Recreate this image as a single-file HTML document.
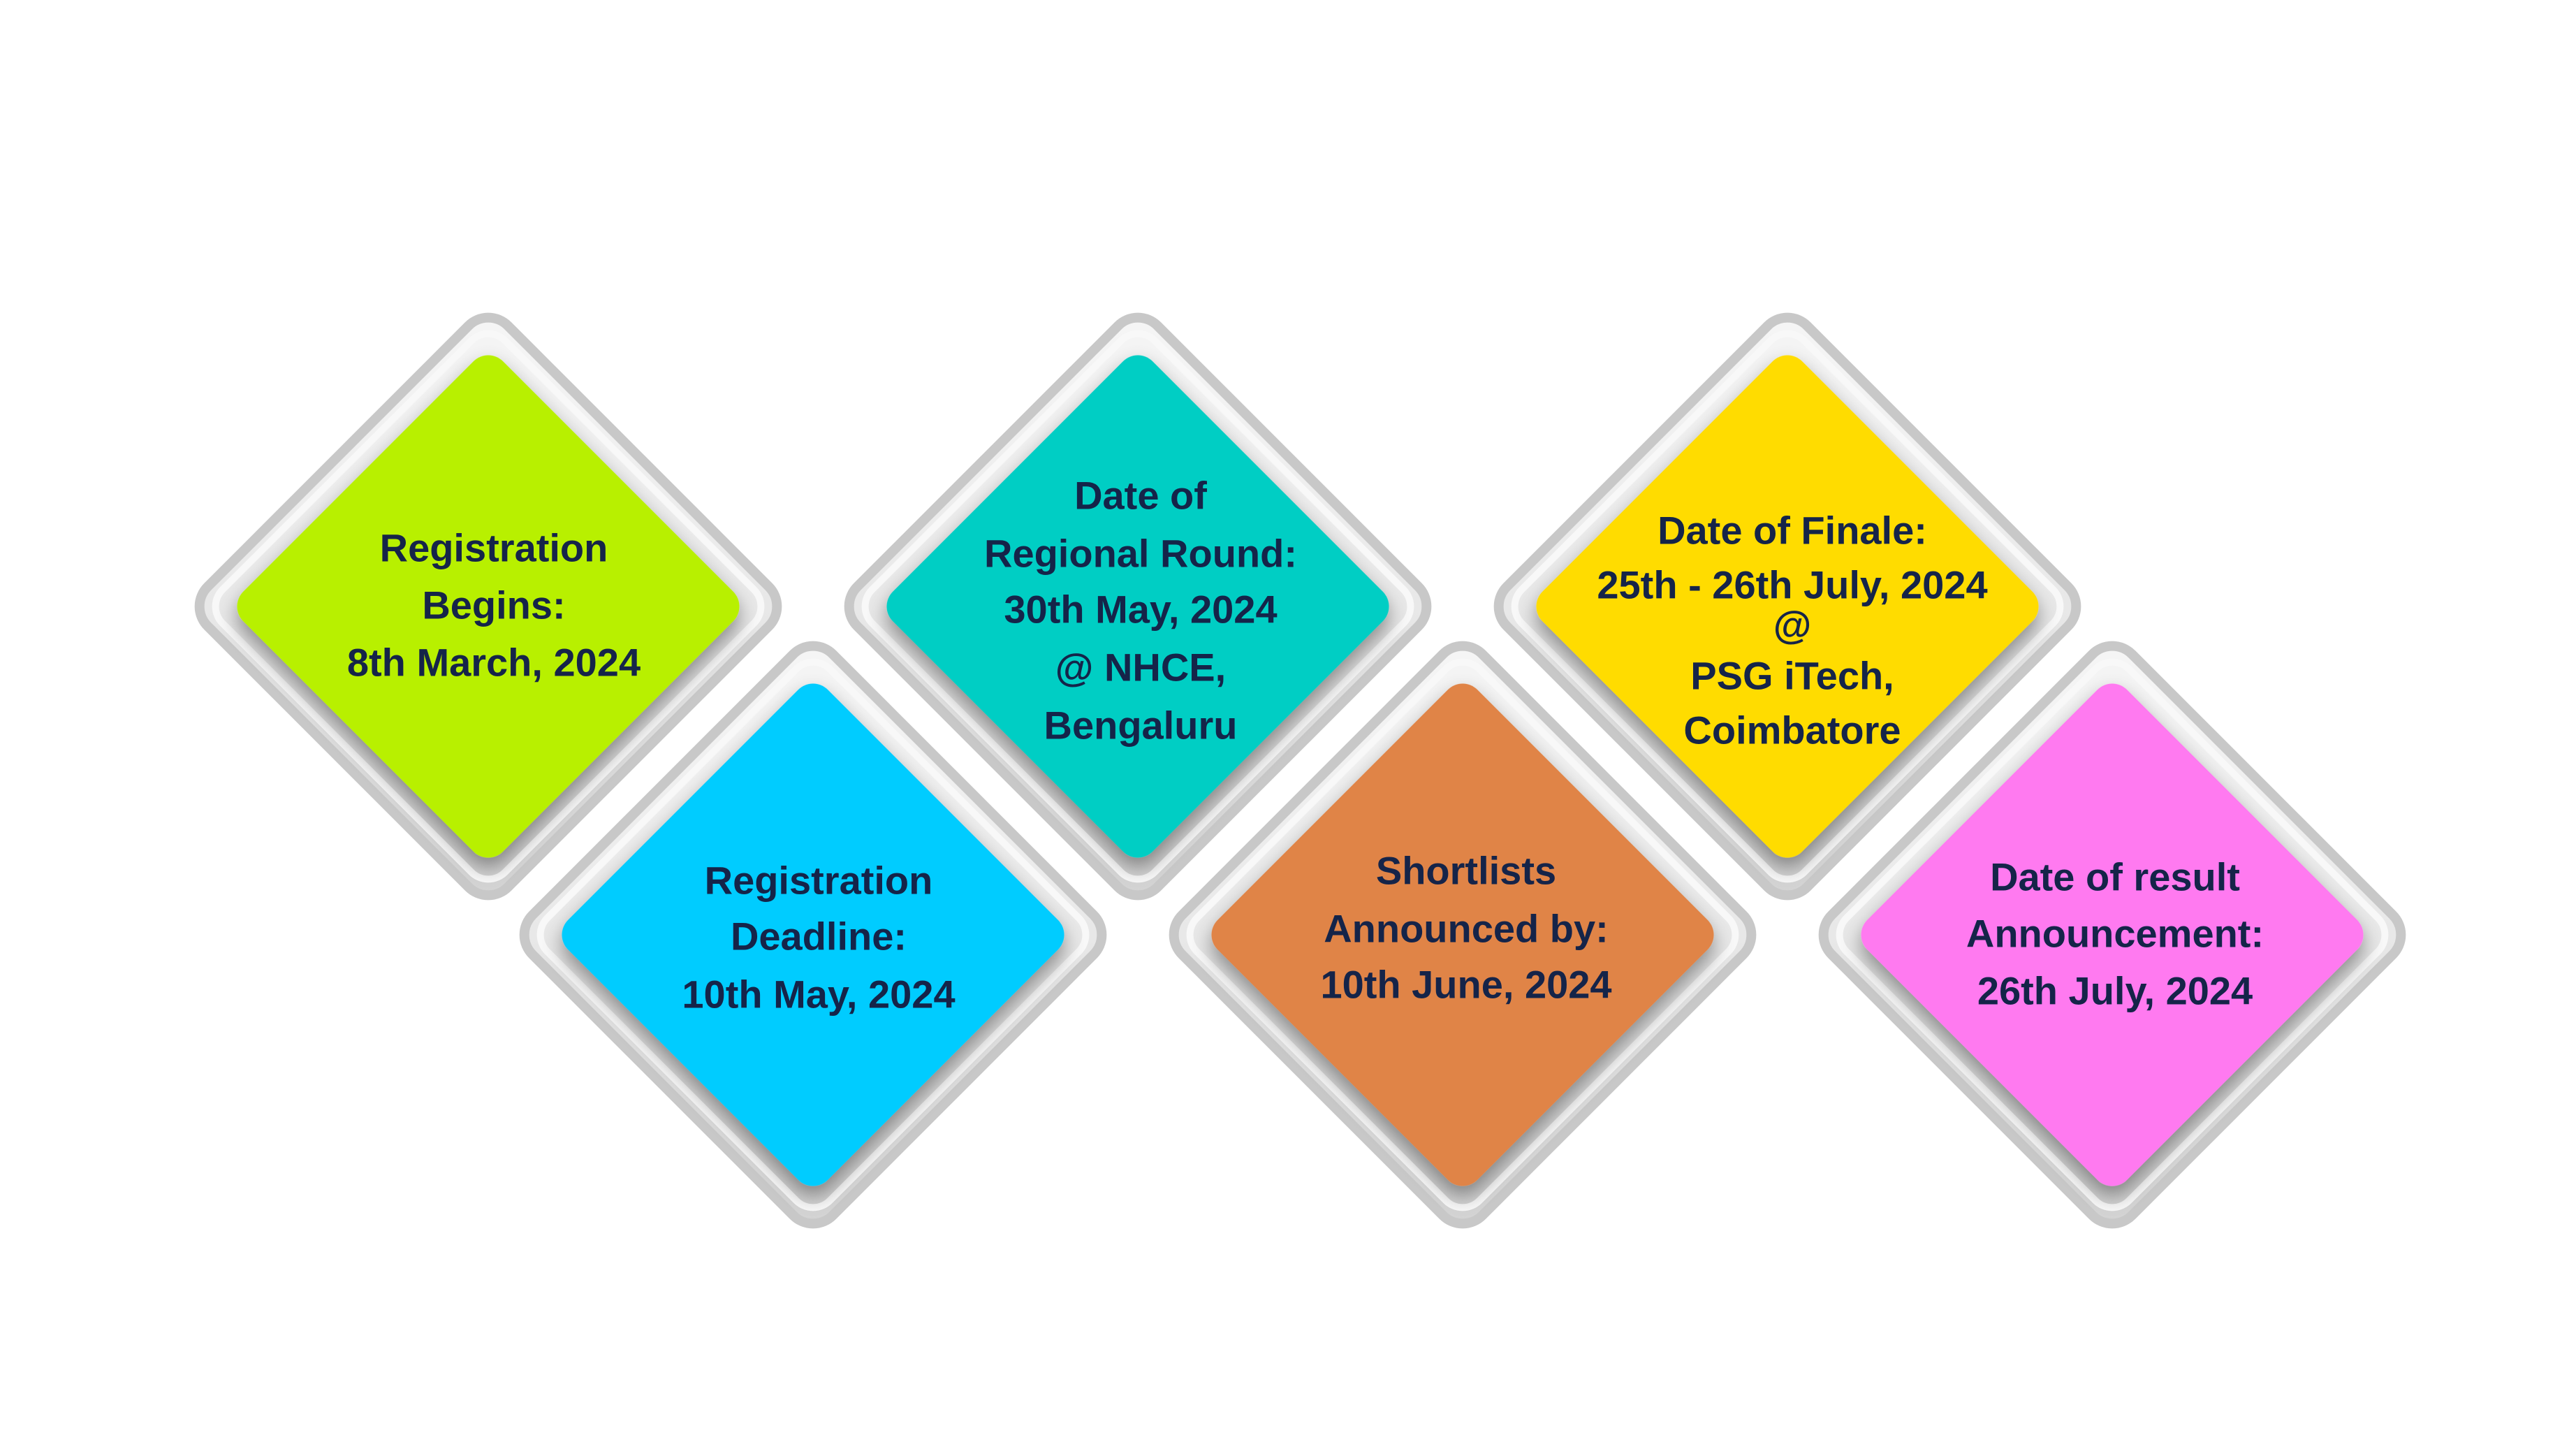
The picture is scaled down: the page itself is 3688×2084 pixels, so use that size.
<!DOCTYPE html>
<html><head><meta charset="utf-8"><style>
html,body{margin:0;padding:0;background:#fff;}
svg{display:block;}
text{font-family:"Liberation Sans",sans-serif;font-weight:bold;fill:#152449;font-size:56px;text-anchor:middle;dominant-baseline:central;}
</style></head><body>
<svg width="3688" height="2084" viewBox="0 0 3688 2084" xmlns="http://www.w3.org/2000/svg">
<defs>
<linearGradient id="fr" x1="0" y1="0" x2="1" y2="1">
<stop offset="0" stop-color="#f6f6f6"/><stop offset="0.5" stop-color="#e8e8e8"/><stop offset="1" stop-color="#d2d2d2"/>
</linearGradient>
<filter id="sh" x="-20%" y="-20%" width="140%" height="140%">
<feGaussianBlur in="SourceAlpha" stdDeviation="14"/>
<feOffset dx="10" dy="10"/>
<feComponentTransfer><feFuncA type="linear" slope="0.4"/></feComponentTransfer>
<feMerge><feMergeNode/><feMergeNode in="SourceGraphic"/></feMerge>
</filter>
<g id="frame">
<rect x="-304" y="-304" width="608" height="608" rx="40" fill="url(#fr)" stroke="#c8c8c8" stroke-width="14"/>
<rect x="-286" y="-286" width="572" height="572" rx="34" fill="none" stroke="#f8f8f8" stroke-width="10"/>
</g>
</defs>

<g transform="translate(699,868) rotate(45)"><use href="#frame"/><rect x="-263" y="-263" width="526" height="526" rx="30" fill="#b8f000" filter="url(#sh)"/></g>
<g transform="translate(1164,1338) rotate(45)"><use href="#frame"/><rect x="-263" y="-263" width="526" height="526" rx="30" fill="#00ccff" filter="url(#sh)"/></g>
<g transform="translate(1629,868) rotate(45)"><use href="#frame"/><rect x="-263" y="-263" width="526" height="526" rx="30" fill="#00cec4" filter="url(#sh)"/></g>
<g transform="translate(2094,1338) rotate(45)"><use href="#frame"/><rect x="-263" y="-263" width="526" height="526" rx="30" fill="#e08446" filter="url(#sh)"/></g>
<g transform="translate(2559,868) rotate(45)"><use href="#frame"/><rect x="-263" y="-263" width="526" height="526" rx="30" fill="#ffdc00" filter="url(#sh)"/></g>
<g transform="translate(3024,1338) rotate(45)"><use href="#frame"/><rect x="-263" y="-263" width="526" height="526" rx="30" fill="#ff7af0" filter="url(#sh)"/></g>

<text x="707" y="784">Registration</text>
<text x="707" y="866">Begins:</text>
<text x="707" y="948">8th March, 2024</text>

<text x="1172" y="1260">Registration</text>
<text x="1172" y="1340">Deadline:</text>
<text x="1172" y="1423">10th May, 2024</text>

<text x="1633" y="709">Date of</text>
<text x="1633" y="792">Regional Round:</text>
<text x="1633" y="872">30th May, 2024</text>
<text x="1633" y="955">@ NHCE,</text>
<text x="1633" y="1038">Bengaluru</text>

<text x="2099" y="1246">Shortlists</text>
<text x="2099" y="1329">Announced by:</text>
<text x="2099" y="1409">10th June, 2024</text>

<text x="2566" y="759">Date of Finale:</text>
<text x="2566" y="837">25th - 26th July, 2024</text>
<text x="2566" y="894">@</text>
<text x="2566" y="967">PSG iTech,</text>
<text x="2566" y="1045">Coimbatore</text>

<text x="3028" y="1255">Date of result</text>
<text x="3028" y="1336">Announcement:</text>
<text x="3028" y="1418">26th July, 2024</text>
</svg>
</body></html>
